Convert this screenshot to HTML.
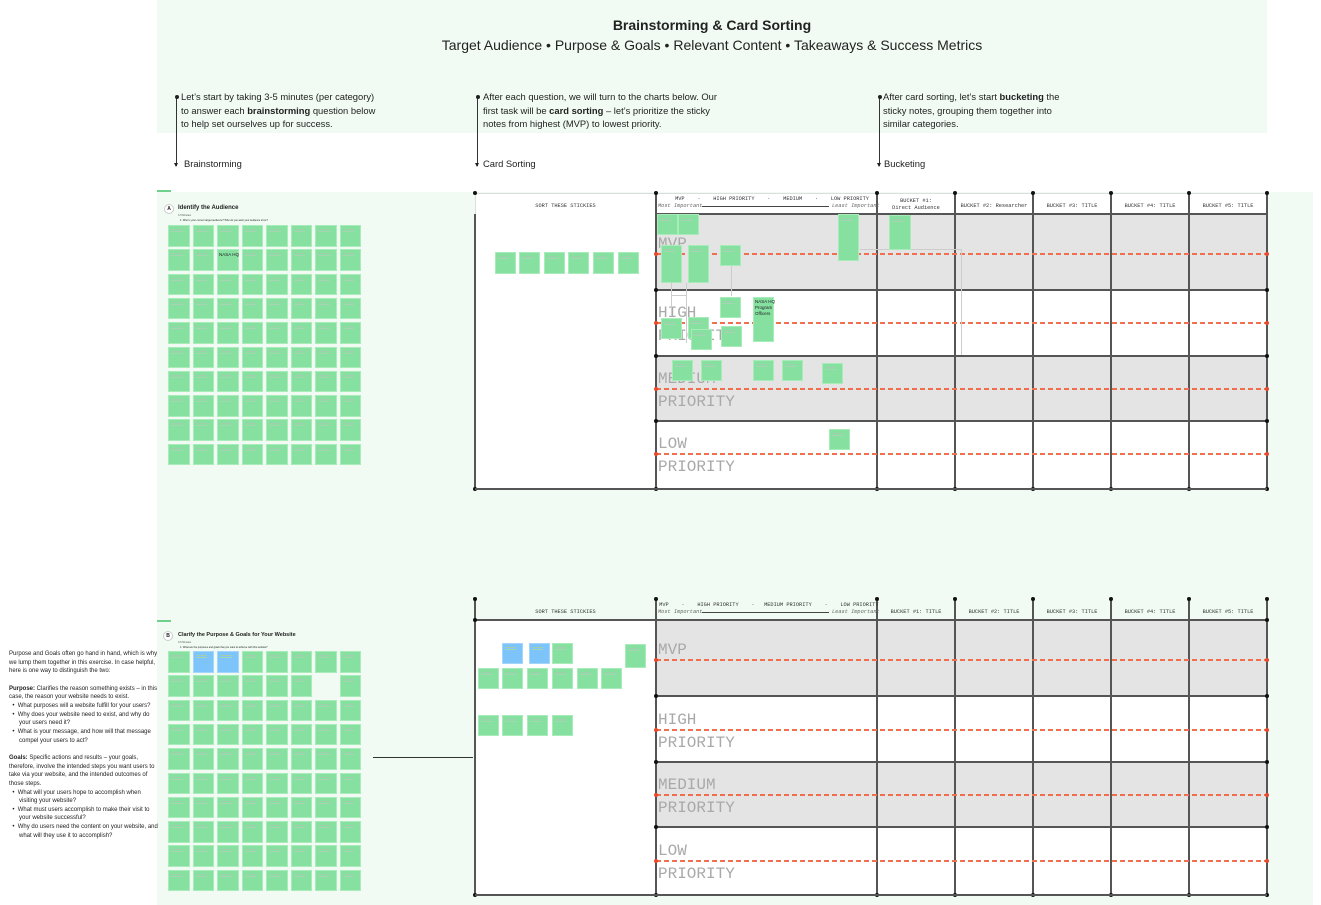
<!DOCTYPE html>
<html><head><meta charset="utf-8">
<style>
*{margin:0;padding:0;box-sizing:border-box}
body{width:1321px;height:905px;position:relative;background:#fff;font-family:"Liberation Sans",sans-serif;color:#222;overflow:hidden}
.a{position:absolute}
.g{background:#f1fbf3}
.st{position:absolute;background:#86e0a0;border:1px solid #a8ecba}
.st i{position:absolute;left:2px;top:3px;width:60%;height:1px;background:#a0cfae;box-shadow:0 2px 0 #a8d4b4}
.bl{background:#7cc4fa;border-color:#a4d6fb}
.hd{position:absolute;font-family:"Liberation Mono",monospace;font-size:5.3px;color:#333;text-align:center;white-space:nowrap}
.rl{position:absolute;font-family:"Liberation Mono",monospace;font-size:16px;color:#a9a9a9;line-height:22px}
.ins{position:absolute;font-size:9.4px;line-height:13.5px;color:#222;white-space:nowrap}
.arr{position:absolute;width:1px;background:#333}
.arr:before{content:"";position:absolute;left:-1.5px;top:-1px;width:4px;height:4px;border-radius:50%;background:#222}
.arr:after{content:"";position:absolute;left:-2px;bottom:-1px;border-left:2.5px solid transparent;border-right:2.5px solid transparent;border-top:4px solid #222}
.dot{position:absolute;width:4px;height:4px;border-radius:50%;background:#111}
.rdot{position:absolute;width:4px;height:4px;border-radius:50%;background:#e8492a}
.red{position:absolute;height:1.5px;background:repeating-linear-gradient(90deg,#ef6f4e 0 5px,transparent 5px 8px)}
.bt{position:absolute;left:9px;top:650px;font-size:6.0px;line-height:8.65px;color:#222;white-space:nowrap}
</style></head><body>
<div class="a g" style="left:157px;top:0;width:1110px;height:133px"></div>
<div class="a g" style="left:157px;top:192px;width:1156px;height:713px"></div>

<div class="a" style="left:157px;top:17px;width:1110px;text-align:center;font-size:14px;font-weight:bold">Brainstorming &amp; Card Sorting</div>
<div class="a" style="left:157px;top:37px;width:1110px;text-align:center;font-size:14px">Target Audience • Purpose &amp; Goals • Relevant Content • Takeaways &amp; Success Metrics</div>

<div class="ins" style="left:181px;top:90px">Let’s start by taking 3-5 minutes (per category)<br>to answer each <b>brainstorming</b> question below<br>to help set ourselves up for success.</div>
<div class="ins" style="left:483px;top:90px">After each question, we will turn to the charts below. Our<br>first task will be <b>card sorting</b> – let’s prioritize the sticky<br>notes from highest (MVP) to lowest priority.</div>
<div class="ins" style="left:883px;top:90px">After card sorting, let’s start <b>bucketing</b> the<br>sticky notes, grouping them together into<br>similar categories.</div>
<div class="arr" style="left:176px;top:96px;height:70px"></div>
<div class="arr" style="left:477px;top:96px;height:70px"></div>
<div class="arr" style="left:879px;top:96px;height:70px"></div>
<div class="ins" style="left:184px;top:157px">Brainstorming</div>
<div class="ins" style="left:483px;top:157px">Card Sorting</div>
<div class="ins" style="left:884px;top:157px">Bucketing</div>

<div class="a" style="left:157px;top:190px;width:14px;height:2px;background:#6fd08c"></div>
<div class="a" style="left:164px;top:204px;width:10px;height:10px;border:1px solid #ccc;border-radius:50%;background:#fff;font-size:5px;text-align:center;line-height:8px;font-weight:bold">A</div>
<div class="a" style="left:178px;top:205px;font-size:6px;font-weight:bold">Identify the Audience</div>
<div class="a" style="left:178px;top:214px;font-size:2.5px;color:#555">3-5 Minutes</div>
<div class="a" style="left:180px;top:219px;font-size:2.5px">1. Who is your current target audience? Who do you want your audience to be?</div>

<div class="bt">Purpose and Goals often go hand in hand, which is why<br>we lump them together in this exercise. In case helpful,<br>here is one way to distinguish the two:<br><br>
<b>Purpose:</b> Clarifies the reason something exists – in this<br>case, the reason your website needs to exist.<br>
&nbsp;&nbsp;•&nbsp; What purposes will a website fulfill for your users?<br>
&nbsp;&nbsp;•&nbsp; Why does your website need to exist, and why do<br>
&nbsp;&nbsp;&nbsp;&nbsp;&nbsp;&nbsp;your users need it?<br>
&nbsp;&nbsp;•&nbsp; What is your message, and how will that message<br>
&nbsp;&nbsp;&nbsp;&nbsp;&nbsp;&nbsp;compel your users to act?<br><br>
<b>Goals:</b> Specific actions and results – your goals,<br>therefore, involve the intended steps you want users to<br>take via your website, and the intended outcomes of<br>those steps.<br>
&nbsp;&nbsp;•&nbsp; What will your users hope to accomplish when<br>
&nbsp;&nbsp;&nbsp;&nbsp;&nbsp;&nbsp;visiting your website?<br>
&nbsp;&nbsp;•&nbsp; What must users accomplish to make their visit to<br>
&nbsp;&nbsp;&nbsp;&nbsp;&nbsp;&nbsp;your website successful?<br>
&nbsp;&nbsp;•&nbsp; Why do users need the content on your website, and<br>
&nbsp;&nbsp;&nbsp;&nbsp;&nbsp;&nbsp;what will they use it to accomplish?</div>

<div class="a" style="left:157px;top:620px;width:14px;height:2px;background:#6fd08c"></div>
<div class="a" style="left:163px;top:631px;width:10px;height:10px;border:1px solid #ccc;border-radius:50%;background:#fff;font-size:5px;text-align:center;line-height:8px;font-weight:bold">B</div>
<div class="a" style="left:178px;top:632px;font-size:5.5px;font-weight:bold">Clarify the Purpose &amp; Goals for Your Website</div>
<div class="a" style="left:178px;top:641px;font-size:2.5px;color:#555">3-5 Minutes</div>
<div class="a" style="left:180px;top:646px;font-size:2.5px">1. What are the purposes and goals that you want to achieve with this website?</div>
<div class="a" style="left:373px;top:757px;width:100px;height:1px;background:#333"></div>

<div id="root"></div>
<script>
var R=document.getElementById('root'),h='';
function st(x,y,w,hh,c,noi){h+='<div class="st '+(c||'')+'" style="left:'+x+'px;top:'+y+'px;width:'+w+'px;height:'+hh+'px">'+(noi?'':'<i></i>')+'</div>';}
function box(x,y,w,hh,s){h+='<div class="a" style="left:'+x+'px;top:'+y+'px;width:'+w+'px;height:'+hh+'px;'+s+'"></div>';}
for(var r=0;r<10;r++)for(var c=0;c<8;c++){st(168+c*24.5,225+r*24.3,21.5,21.5,'',r==1&&c==2);}
for(var r=0;r<10;r++)for(var c=0;c<8;c++){
 if(r==1&&c==6)continue;
 st(168+c*24.5,651+r*24.3,21.5,21.5,(r==0&&(c==1||c==2))?'bl':'');}
function table(T,rows,reds,hdrWhite,hdr2){
 var L=475,Rr=1267,cols=[475,656,877,955,1033,1111,1189,1267];
 box(L,T,Rr-L,rows[0]-T,hdrWhite?'background:#fff':'');
 box(L,rows[0],656-L,rows[4]-rows[0],'background:#fff');
 box(656,rows[0],Rr-656,rows[1]-rows[0],'background:#e4e4e4');
 box(656,rows[1],Rr-656,rows[2]-rows[1],'background:#fff');
 box(656,rows[2],Rr-656,rows[3]-rows[2],'background:#e4e4e4');
 box(656,rows[3],Rr-656,rows[4]-rows[3],'background:#fff');
 if(hdrWhite)box(L,T,Rr-L,rows[4]-T,'border:1px solid #ddd');
 for(var i=0;i<cols.length;i++){var x=cols[i];var top=(i==0&&hdrWhite)?rows[0]:T;box(x-0.75,top,1.5,rows[4]-top,'background:#555');h+='<div class="dot" style="left:'+(x-2)+'px;top:'+(T-2)+'px"></div><div class="dot" style="left:'+(x-2)+'px;top:'+(rows[4]-2)+'px"></div>';}
 for(var i=0;i<5;i++){var x0=(i==4||!hdrWhite&&i==0)?L:656;box(x0,rows[i]-0.75,Rr-x0,1.5,'background:#555');if(i>0&&i<4||i==0&&!hdrWhite)h+='<div class="dot" style="left:'+(x0-2)+'px;top:'+(rows[i]-2)+'px"></div><div class="dot" style="left:'+(Rr-2)+'px;top:'+(rows[i]-2)+'px"></div>';}
 for(var i=0;i<4;i++){h+='<div class="red" style="left:656px;top:'+(reds[i]-0.75)+'px;width:'+(Rr-656)+'px"></div><div class="rdot" style="left:654px;top:'+(reds[i]-2)+'px"></div><div class="rdot" style="left:1265px;top:'+(reds[i]-2)+'px"></div>';}
 var labs=[['MVP',''],['HIGH','PRIORITY'],['MEDIUM','PRIORITY'],['LOW','PRIORITY']];
 for(var i=0;i<4;i++){h+='<div class="rl" style="left:658px;top:'+(reds[i]-21)+'px">'+labs[i][0]+'</div>';if(labs[i][1])h+='<div class="rl" style="left:658px;top:'+(reds[i]+2)+'px">'+labs[i][1]+'</div>';}
 var hy=T+(rows[0]-T)/2;
 h+='<div class="hd" style="left:475px;width:181px;top:'+(hy-1)+'px">SORT THESE STICKIES</div>';
 h+='<div class="hd" style="left:656px;width:221px;top:'+(T+3)+'px;text-align:left">'+hdr2+'</div>';
 h+='<div class="hd" style="left:658px;top:'+(T+10)+'px;font-style:italic;color:#666">Most Important</div><div class="hd" style="left:832px;top:'+(T+10)+'px;font-style:italic;color:#666">Least Important</div>';
 box(702,T+13,127,0,'border-top:1px solid #444');
 var bt=T==193?['BUCKET #1:<br>Direct Audience','BUCKET #2: Researcher']:['BUCKET #1: TITLE','BUCKET #2: TITLE'];
 bt=bt.concat(['BUCKET #3: TITLE','BUCKET #4: TITLE','BUCKET #5: TITLE']);
 for(var i=0;i<5;i++)h+='<div class="hd" style="left:'+cols[i+2]+'px;width:78px;top:'+(T==193?(i==0?T+5:hy-1):hy-1)+'px;line-height:7px">'+bt[i]+'</div>';
}
table(193,[214,290,356,421,489],[254,323,389,454],true,'&nbsp;&nbsp;&nbsp;&nbsp;&nbsp;&nbsp;MVP&nbsp;&nbsp;&nbsp;&nbsp;·&nbsp;&nbsp;&nbsp;&nbsp;HIGH PRIORITY&nbsp;&nbsp;&nbsp;&nbsp;·&nbsp;&nbsp;&nbsp;&nbsp;MEDIUM&nbsp;&nbsp;&nbsp;&nbsp;·&nbsp;&nbsp;&nbsp;&nbsp;LOW PRIORITY');
table(599,[620,696,762,827,895],[660,730,795,861],false,'&nbsp;MVP&nbsp;&nbsp;&nbsp;&nbsp;·&nbsp;&nbsp;&nbsp;&nbsp;HIGH PRIORITY&nbsp;&nbsp;&nbsp;&nbsp;·&nbsp;&nbsp;&nbsp;MEDIUM PRIORITY&nbsp;&nbsp;&nbsp;&nbsp;·&nbsp;&nbsp;&nbsp;&nbsp;LOW PRIORITY');
box(671,283,0,32,'border-left:1px solid #ccc');box(671,295,16,0,'border-top:1px solid #ccc');box(686,283,0,60,'border-left:1px solid #ccc');box(731,266,0,30,'border-left:1px solid #ccc');
box(860,249,102,106,'border:1px solid #ccc;border-left:none;border-bottom:none');box(961,249,0,106,'border-left:1px solid #ccc');
[495,519,544,568,593,618].forEach(function(x){st(x,252,21,22);});
st(657,214,21,21);st(678,214,21,21);st(661,245,21,38);st(688,245,21,38);st(720,245,21,21);st(838,214,21,47);st(889,215,22,35);
st(720,297,21,21);st(753,297,21,45,'',1);st(661,318,21,21);st(688,317,21,22);st(691,329,21,21);st(721,326,21,21);
st(672,360,21,21);st(701,360,21,21);st(753,360,21,21);st(782,360,21,21);st(822,363,21,21);st(829,429,21,21);
st(502,643,21,21,'bl');st(529,643,21,21,'bl');st(552,643,21,21);st(625,644,21,24);
[478,502,527,552,577,601].forEach(function(x){st(x,668,21,21);});
[478,502,527,552].forEach(function(x){st(x,715,21,21);});
R.innerHTML=h;
</script>
<div class="a" style="left:755px;top:299px;font-size:4.5px;line-height:6px">NASA HQ<br>Program<br>Officers</div>
<div class="a" style="left:219px;top:252px;font-size:4.5px">NASA HQ</div>
</body></html>
